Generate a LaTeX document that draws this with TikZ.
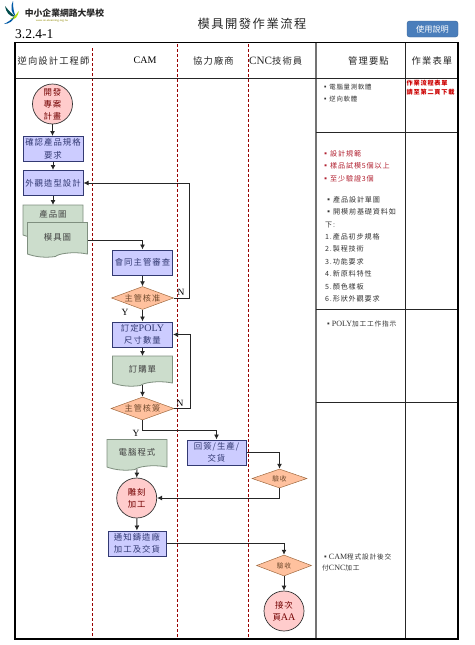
\documentclass[tikz,border=0pt]{standalone}
\usepackage{fontspec}
\setmainfont{Liberation Serif}
\newfontfamily\cjk[LetterSpace=12]{Noto Sans CJK TC}
\newfontfamily\cjktight{Noto Sans CJK TC}
\newfontfamily\latin[Scale=1.2]{Liberation Serif}
\usetikzlibrary{arrows.meta,shapes.geometric}
\definecolor{bluefill}{HTML}{CCCCFF}
\definecolor{blueline}{HTML}{333A73}
\definecolor{pinkfill}{HTML}{FFCCCC}
\definecolor{greenfill}{HTML}{CCDDCC}
\definecolor{greenline}{HTML}{7F8F7F}
\definecolor{orangefill}{HTML}{FFC19E}
\definecolor{orangeline}{HTML}{A06A40}
\definecolor{redtext}{HTML}{B01E2E}
\definecolor{btnblue}{HTML}{4A7EBB}
\tikzset{
  flow/.style={draw=black!85, line width=0.9pt, -{Latex[length=5pt,width=5pt]}},
  task/.style={draw=blueline, fill=bluefill, line width=1pt, inner sep=0pt, align=center,
    font=\cjk\fontsize{8.4}{12.5}\selectfont, text=blueline, minimum width=60pt, minimum height=25pt},
  term/.style={circle, draw=black!80, fill=pinkfill, line width=0.7pt, inner sep=0pt, align=center,
    font=\cjk\fontsize{8.4}{12}\selectfont, text=red!45!black, minimum size=40pt},
  check/.style={diamond, draw=orangeline, fill=orangefill, line width=0.5pt, inner sep=0pt, align=center,
    aspect=2.7, font=\cjk\fontsize{8.2}{10}\selectfont, text=orangeline!70!black},
  swim/.style={red!60!black, densely dashed, line width=0.7pt},
  headtext/.style={font=\cjk\fontsize{9.3}{12}\selectfont, text=black!85},
  note/.style={anchor=north west, align=left, text width=#1, inner sep=0pt, font=\cjk\fontsize{7.1}{12.4}\selectfont, text=black!80},
  note/.default=80pt,
  letter/.style={font=\fontsize{9.5}{11}\selectfont, inner sep=0pt}
}
% paper sheet with a wavy lower edge
\newcommand{\docshape}[7]{%
  \fill[greenfill, draw=greenline, line width=0.8pt] (#1,#2) -- (#3,#2) -- (#3,#4-3)
    .. controls (#3-15,#4-6) and (#3-30,#4-3) .. (#1+28,#4-0.5)
    .. controls (#1+18,#4+1) and (#1+8,#4) .. (#1,#4-3) -- cycle;
  \coordinate (#5n) at ({(#1+#3)/2},#2);
  \coordinate (#5s) at ({(#1+#3)/2},#4-1);
  \coordinate (#5e) at (#3,#4-17);
  \node[font=\cjk\fontsize{8.4}{12}\selectfont, text=black!75, inner sep=0pt] (#5) at ({(#1+#3)/2},#7) {#6};
}
\begin{document}
\begin{tikzpicture}[x=1pt, y=-1pt]
  \useasboundingbox (0,0) rectangle (474,645);

  % logo and heading
  \fill[teal!70!blue] (13,1) .. controls (13,9) and (14,13) .. (16,17) .. controls (11,13) and (10,7) .. (13,1);
  \fill[teal!60!black] (5,6) .. controls (9,11) and (12,14) .. (16,17) .. controls (9,17) and (6,12) .. (5,6);
  \fill[yellow!70!green] (19,11) .. controls (16,14) and (14,18) .. (10,19) .. controls (15,21) and (18,16) .. (19,11);
  \fill[teal!70!blue] (14,17) .. controls (11,20) and (8,22) .. (4,24) .. controls (9,24) and (13,21) .. (14,17);
  \node[font=\cjktight\bfseries\fontsize{8.8}{10}\selectfont, text=black!85, inner sep=0pt] (logotext) at (64.5,13.5) {中小企業網路大學校};
  \node[font=\sffamily\fontsize{3}{4}\selectfont, text=olive, inner sep=0pt] (logourl) at (52,21) {www.sn-elearning.org.tw};
  \node[font=\cjk\fontsize{12.3}{15}\selectfont, text=black!85, inner sep=0pt] (title) at (252,24) {模具開發作業流程};
  \node[font=\fontsize{13.5}{15}\selectfont, inner sep=0pt, anchor=west] (secno) at (15,34) {3.2.4-1};
  \node[draw=btnblue!80!black, fill=btnblue, rounded corners=2.5pt, minimum width=51pt, minimum height=16pt, inner sep=0pt,
    text=white, font=\cjktight\fontsize{8.2}{9}\selectfont] (usage) at (432.5,29) {使用說明};

  % table
  \draw[swim] (92.5,48) -- (92.5,638);
  \draw[swim] (177.5,44) -- (177.5,638);
  \draw[swim] (248,44) -- (248,638);
  \draw[black!55, line width=1.6pt] (316,43) -- (316,638);
  \draw[black!85, line width=1pt] (405,43) -- (405,638);
  \draw[black!85, line width=1pt] (15,78) -- (458,78);
  \draw[black!85, line width=1pt] (316,132.5) -- (458,132.5);
  \draw[black!85, line width=1pt] (316,309) -- (458,309);
  \draw[black!85, line width=1pt] (316,402.5) -- (458,402.5);
  \draw[black, line width=1.8pt] (15,42.5) rectangle (458,639);

  \node[headtext, inner sep=0pt] (h1) at (53.5,60.5) {逆向設計工程師};
  \node[font=\fontsize{10}{12}\selectfont, inner sep=0pt] (h2) at (145,60.5) {CAM};
  \node[headtext, inner sep=0pt] (h3) at (213.5,60.5) {協力廠商};
  \node[headtext, inner sep=0pt, anchor=west] (h4) at (249,60.5) {{\latin CNC}技術員};
  \node[headtext, inner sep=0pt] (h5) at (368.5,60.5) {管理要點};
  \node[headtext, inner sep=0pt] (h6) at (432,60.5) {作業表單};

  % flow nodes
  \node[term] (start) at (52.5,104) {開發\\專案\\計畫};
  \node[task] (spec) at (53,149) {確認產品規格\\要求};
  \node[task] (styling) at (53,183) {外觀造型設計};
  \docshape{23}{205}{83}{238}{proddoc}{產品圖}{214}
  \docshape{27.5}{222.5}{87.5}{257}{molddoc}{模具圖}{237}
  \node[task] (review) at (142.5,262.5) {會同主管審查};
  \node[check, minimum width=62pt, minimum height=23pt] (approve) at (142.5,298) {主管核准};
  \node[task] (poly) at (142.5,334.5) {訂定{\latin POLY}\\尺寸數量};
  \docshape{112.5}{356}{172.5}{386}{orderdoc}{訂購單}{369}
  \node[check, minimum width=63pt, minimum height=23pt] (signoff) at (142.5,408.5) {主管核簽};
  \docshape{107}{439.5}{167}{470}{cncdoc}{電腦程式}{452.7}
  \node[task, minimum width=59pt] (reply) at (216.5,452.5) {回簽/生產/\\交貨};
  \node[check, minimum width=55pt, minimum height=19pt, font=\cjk\fontsize{6.7}{8}\selectfont] (accept) at (279.5,478.5) {驗收};
  \node[term] (carve) at (136.7,498) {雕刻\\加工};
  \node[task, minimum width=58pt] (notify) at (137,543.5) {通知鑄造廠\\加工及交貨};
  \node[check, minimum width=55pt, minimum height=21pt, font=\cjk\fontsize{6.7}{8}\selectfont] (inspect) at (284,565.5) {驗收};
  \node[term] (nextpage) at (284,611) {接次\\頁{\latin AA}};

  % connectors
  \draw[flow] (start) -- (start |- spec.north);
  \draw[flow] (spec) -- (styling);
  \draw[flow] (styling.south) -- (proddocn);
  \draw[flow] (molddoce) -| (review.north);
  \draw[flow] (review) -- (approve.north);
  \draw[flow] (approve.east) -- (189.5,298) |- (styling.east);
  \draw[flow] (approve.south) -- (poly.north);
  \draw[flow] (poly) -- (orderdocn);
  \draw[flow] (orderdocs) -- (signoff.north);
  \draw[flow] (signoff.east) -- (190,408.5) |- (poly.east);
  \coordinate (replyturn) at (reply.north |- 0,430.5);
  \draw[flow] (signoff.south) |- (replyturn) -- (reply.north);
  \draw[flow] (cncdocs) -- (carve.north);
  \draw[flow] (reply.east) -| (accept.north);
  \draw[flow] (accept.south) |- (carve.east);
  \draw[flow] (carve) -- (notify);
  \draw[flow] (notify.east) -| (inspect.north);
  \draw[flow] (inspect) -- (nextpage);

  % branch letters
  \node[letter] (n1) at (181,292.5) {N};
  \node[letter] (y1) at (125,312) {Y};
  \node[letter] (n2) at (180,403) {N};
  \node[letter] (y2) at (136,433) {Y};

  % notes
  \node[note, font=\cjk\fontsize{6.4}{12}\selectfont] (n3a) at (322,83.5) {▪電腦量測軟體\\▪逆向軟體};
  \node[note, text=redtext, font=\cjk\fontsize{7.1}{12.5}\selectfont] (n3b) at (322,150) {▪設計規範\\▪樣品試模5個以上\\▪至少驗證3個};
  \node[note] (n3c) at (325,196) {▪產品設計單圖\\▪開模前基礎資料如\\下:\\1.產品初步規格\\2.製程技術\\3.功能要求\\4.新原料特性\\5.顏色樣板\\6.形狀外觀要求};
  \node[note, font=\cjk\fontsize{6.7}{12}\selectfont] (n3d) at (325,320.5) {▪{\latin POLY}加工工作指示};
  \node[note, font=\cjk\fontsize{6.7}{11}\selectfont] (n3e) at (322,553.5) {▪{\latin CAM}程式設計後交\\付{\latin CNC}加工};
  \node[note=52pt, text=red!80!black, font=\cjk\bfseries\fontsize{6.2}{9}\selectfont] (n4) at (406.5,80) {作業流程表單\\請至第二頁下載};
\end{tikzpicture}
\end{document}
